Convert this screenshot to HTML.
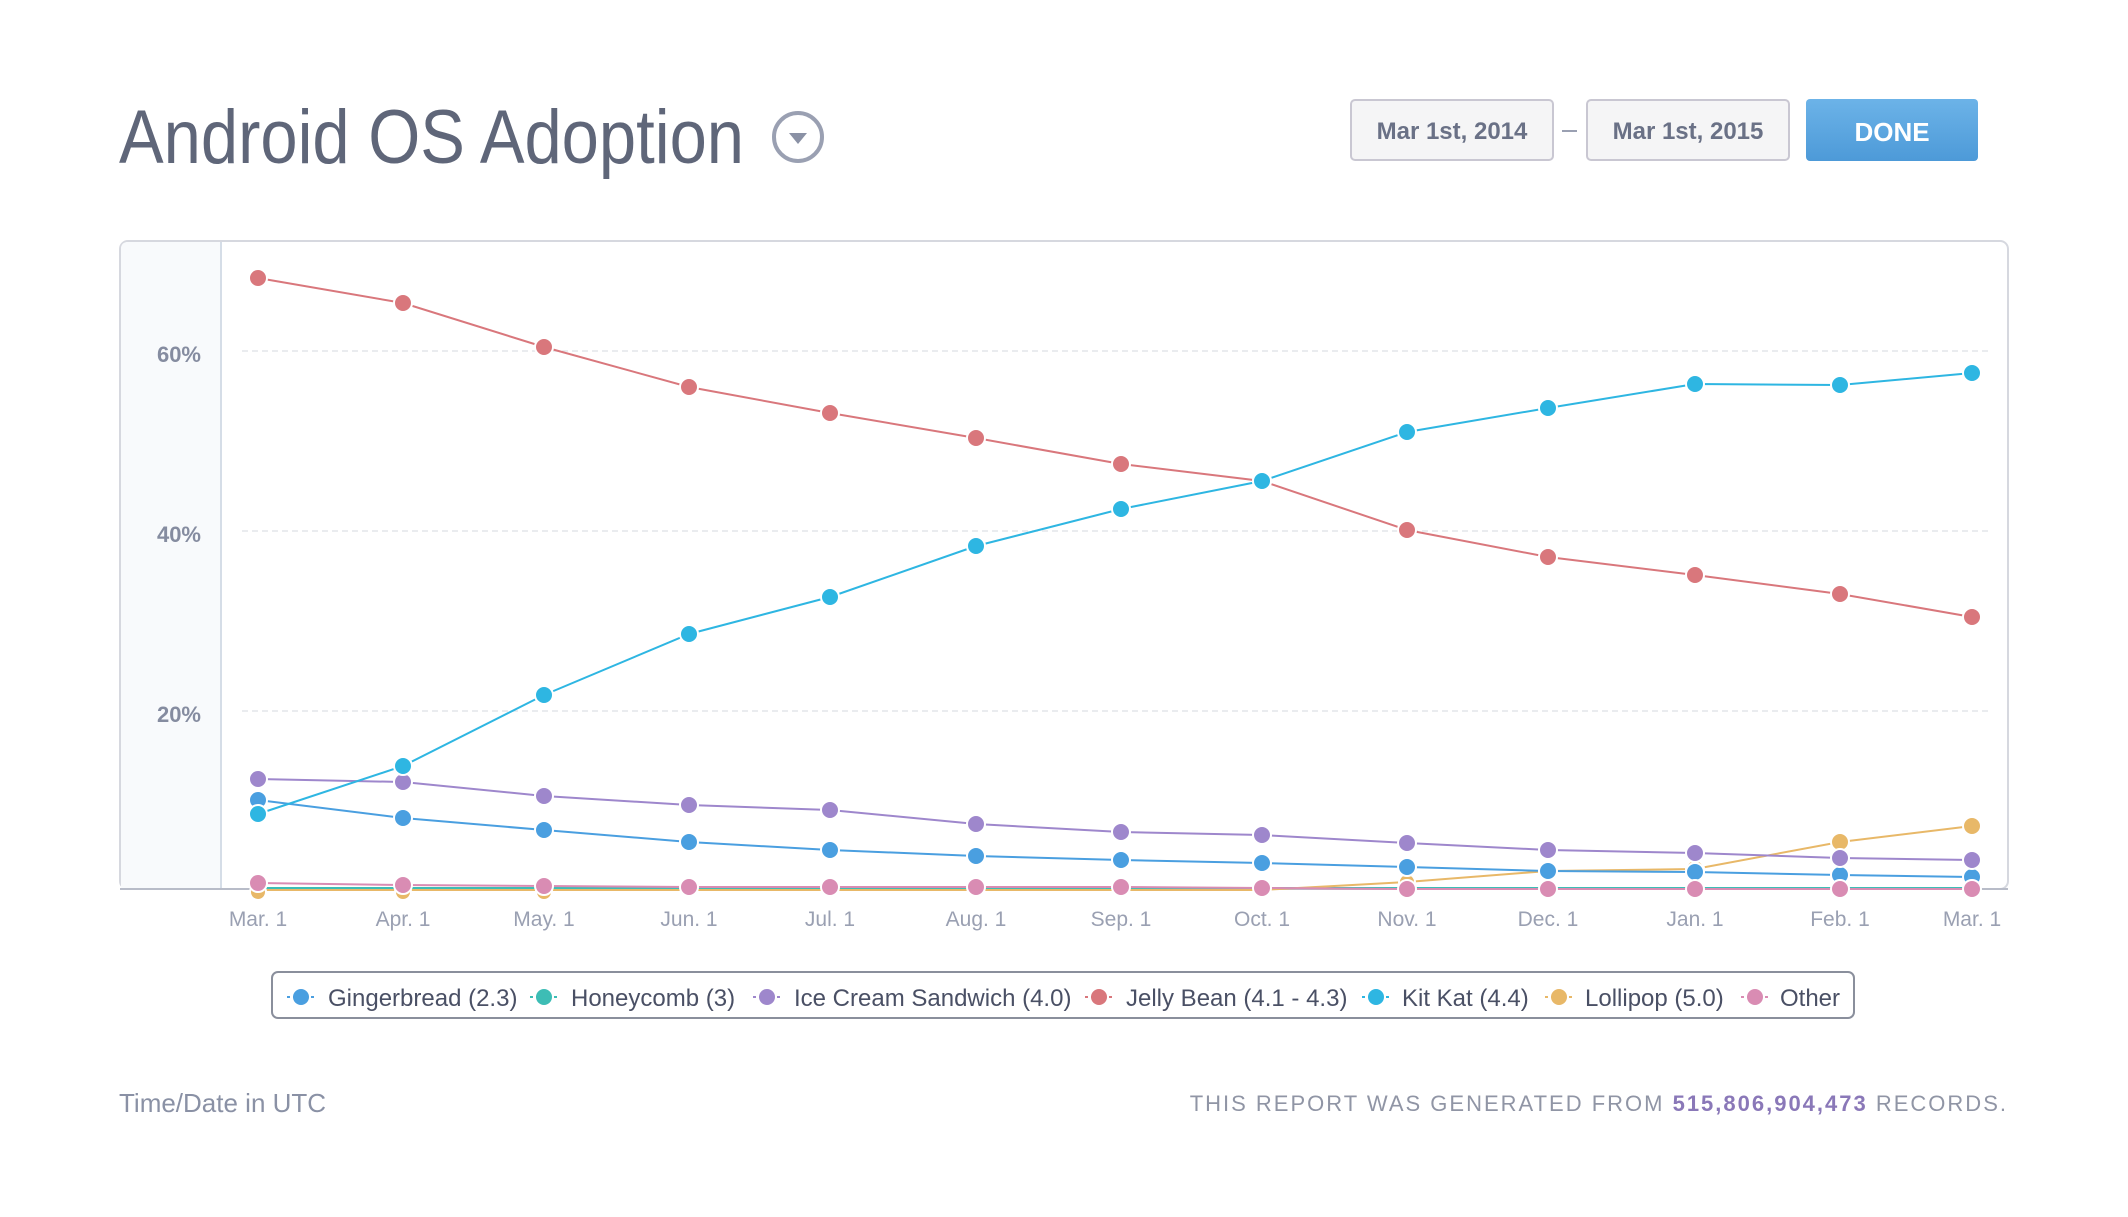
<!DOCTYPE html>
<html><head><meta charset="utf-8"><style>
html,body{margin:0;padding:0;background:#fff;}
body{width:2128px;height:1212px;overflow:hidden;font-family:"Liberation Sans",sans-serif;}
</style></head><body>
<svg width="2128" height="1212" viewBox="0 0 2128 1212" xmlns="http://www.w3.org/2000/svg" font-family="Liberation Sans, sans-serif">
<!-- title -->
<text x="119" y="163" font-size="76" fill="#5f6679" font-weight="300" textLength="625" lengthAdjust="spacingAndGlyphs">Android OS Adoption</text>
<circle cx="798" cy="137" r="24" fill="none" stroke="#9aa0b2" stroke-width="4"/>
<path d="M789 133 L807 133 L798 144 Z" fill="#8a91a5"/>
<!-- buttons -->
<rect x="1351" y="100" width="202" height="60" rx="4" fill="#f5f5f6" stroke="#c9c7d2" stroke-width="2"/>
<text x="1452" y="139" font-size="24" font-weight="bold" fill="#6a7186" text-anchor="middle">Mar 1st, 2014</text>
<line x1="1562" y1="131" x2="1577" y2="131" stroke="#9aa0b2" stroke-width="2"/>
<rect x="1587" y="100" width="202" height="60" rx="4" fill="#f5f5f6" stroke="#c9c7d2" stroke-width="2"/>
<text x="1688" y="139" font-size="24" font-weight="bold" fill="#6a7186" text-anchor="middle">Mar 1st, 2015</text>
<defs><linearGradient id="g" x1="0" y1="0" x2="0" y2="1"><stop offset="0" stop-color="#6cb3e8"/><stop offset="1" stop-color="#4d9ad8"/></linearGradient></defs>
<rect x="1806" y="99" width="172" height="62" rx="4" fill="url(#g)"/>
<text x="1892" y="141" font-size="26" font-weight="bold" fill="#fff" text-anchor="middle">DONE</text>
<!-- chart box -->
<rect x="120" y="241" width="1888" height="648" rx="8" fill="#fff" stroke="#d6d8df" stroke-width="2"/>
<path d="M121 249 Q121 242 128 242 L221 242 L221 888 L121 888 Z" fill="#f8fafc"/>
<line x1="221" y1="242" x2="221" y2="889" stroke="#d5dde7" stroke-width="2"/>
<line x1="120" y1="889" x2="2008" y2="889" stroke="#b8bcc8" stroke-width="2"/>
<g stroke="#e3e5ea" stroke-width="1.5" stroke-dasharray="6,4">
<line x1="242" y1="351" x2="1990" y2="351"/>
<line x1="242" y1="531" x2="1990" y2="531"/>
<line x1="242" y1="711" x2="1990" y2="711"/>
</g>
<g font-size="22" font-weight="bold" fill="#858ca0" text-anchor="end">
<text x="201" y="362">60%</text><text x="201" y="542">40%</text><text x="201" y="722">20%</text>
</g>
<g font-size="21" fill="#9aa0b2" text-anchor="middle">
<text x="258" y="926">Mar. 1</text><text x="403" y="926">Apr. 1</text><text x="544" y="926">May. 1</text><text x="689" y="926">Jun. 1</text><text x="830" y="926">Jul. 1</text><text x="976" y="926">Aug. 1</text><text x="1121" y="926">Sep. 1</text><text x="1262" y="926">Oct. 1</text><text x="1407" y="926">Nov. 1</text><text x="1548" y="926">Dec. 1</text><text x="1695" y="926">Jan. 1</text><text x="1840" y="926">Feb. 1</text><text x="1972" y="926">Mar. 1</text>
</g>
<g fill="none" stroke-width="2">
<polyline stroke="#3dbdb5" points="258,888 403,888 544,888 689,888 830,888 976,888 1121,888 1262,888 1407,888 1548,888 1695,888 1840,888 1972,888"/>
<polyline stroke="#e8b868" points="258,890 403,890 544,890 689,890 830,890 976,890 1121,890 1262,890 1407,882 1548,871 1695,869 1840,842 1972,826"/>
<polyline stroke="#4a9fe0" points="258,800 403,818 544,830 689,842 830,850 976,856 1121,860 1262,863 1407,867 1548,871 1695,872 1840,875 1972,877"/>
<polyline stroke="#9e87cc" points="258,779 403,782 544,796 689,805 830,810 976,824 1121,832 1262,835 1407,843 1548,850 1695,853 1840,858 1972,860"/>
<polyline stroke="#d9777c" points="258,278 403,303 544,347 689,387 830,413 976,438 1121,464 1262,481 1407,530 1548,557 1695,575 1840,594 1972,617"/>
<polyline stroke="#2eb6e2" points="258,814 403,766 544,695 689,634 830,597 976,546 1121,509 1262,481 1407,432 1548,408 1695,384 1840,385 1972,373"/>
<polyline stroke="#d98cb3" points="258,883 403,885 544,886 689,887 830,887 976,887 1121,887 1262,888 1407,889 1548,889 1695,889 1840,889 1972,889"/>
</g>
<g stroke="#fff" stroke-width="2">
<g fill="#3dbdb5"><circle cx="258" cy="888" r="7"/><circle cx="403" cy="888" r="7"/><circle cx="544" cy="888" r="7"/><circle cx="689" cy="888" r="7"/><circle cx="830" cy="888" r="7"/><circle cx="976" cy="888" r="7"/><circle cx="1121" cy="888" r="7"/><circle cx="1262" cy="888" r="7"/><circle cx="1407" cy="888" r="7"/><circle cx="1548" cy="888" r="7"/><circle cx="1695" cy="888" r="7"/><circle cx="1840" cy="888" r="7"/><circle cx="1972" cy="888" r="7"/></g>
<g fill="#e8b868"><circle cx="258" cy="892" r="8"/><circle cx="403" cy="892" r="8"/><circle cx="544" cy="892" r="8"/><circle cx="1407" cy="882" r="8"/><circle cx="1548" cy="871" r="9"/><circle cx="1695" cy="869" r="9"/><circle cx="1840" cy="842" r="9"/><circle cx="1972" cy="826" r="9"/></g>
<g fill="#4a9fe0"><circle cx="258" cy="800" r="9"/><circle cx="403" cy="818" r="9"/><circle cx="544" cy="830" r="9"/><circle cx="689" cy="842" r="9"/><circle cx="830" cy="850" r="9"/><circle cx="976" cy="856" r="9"/><circle cx="1121" cy="860" r="9"/><circle cx="1262" cy="863" r="9"/><circle cx="1407" cy="867" r="9"/><circle cx="1548" cy="871" r="9"/><circle cx="1695" cy="872" r="9"/><circle cx="1840" cy="875" r="9"/><circle cx="1972" cy="877" r="9"/></g>
<g fill="#9e87cc"><circle cx="258" cy="779" r="9"/><circle cx="403" cy="782" r="9"/><circle cx="544" cy="796" r="9"/><circle cx="689" cy="805" r="9"/><circle cx="830" cy="810" r="9"/><circle cx="976" cy="824" r="9"/><circle cx="1121" cy="832" r="9"/><circle cx="1262" cy="835" r="9"/><circle cx="1407" cy="843" r="9"/><circle cx="1548" cy="850" r="9"/><circle cx="1695" cy="853" r="9"/><circle cx="1840" cy="858" r="9"/><circle cx="1972" cy="860" r="9"/></g>
<g fill="#d9777c"><circle cx="258" cy="278" r="9"/><circle cx="403" cy="303" r="9"/><circle cx="544" cy="347" r="9"/><circle cx="689" cy="387" r="9"/><circle cx="830" cy="413" r="9"/><circle cx="976" cy="438" r="9"/><circle cx="1121" cy="464" r="9"/><circle cx="1262" cy="481" r="9"/><circle cx="1407" cy="530" r="9"/><circle cx="1548" cy="557" r="9"/><circle cx="1695" cy="575" r="9"/><circle cx="1840" cy="594" r="9"/><circle cx="1972" cy="617" r="9"/></g>
<g fill="#2eb6e2"><circle cx="258" cy="814" r="9"/><circle cx="403" cy="766" r="9"/><circle cx="544" cy="695" r="9"/><circle cx="689" cy="634" r="9"/><circle cx="830" cy="597" r="9"/><circle cx="976" cy="546" r="9"/><circle cx="1121" cy="509" r="9"/><circle cx="1262" cy="481" r="9"/><circle cx="1407" cy="432" r="9"/><circle cx="1548" cy="408" r="9"/><circle cx="1695" cy="384" r="9"/><circle cx="1840" cy="385" r="9"/><circle cx="1972" cy="373" r="9"/></g>
<g fill="#d98cb3"><circle cx="258" cy="883" r="9"/><circle cx="403" cy="885" r="9"/><circle cx="544" cy="886" r="9"/><circle cx="689" cy="887" r="9"/><circle cx="830" cy="887" r="9"/><circle cx="976" cy="887" r="9"/><circle cx="1121" cy="887" r="9"/><circle cx="1262" cy="888" r="9"/><circle cx="1407" cy="889" r="9"/><circle cx="1548" cy="889" r="9"/><circle cx="1695" cy="889" r="9"/><circle cx="1840" cy="889" r="9"/><circle cx="1972" cy="889" r="9"/></g>
</g>
<!-- legend -->
<rect x="272" y="972" width="1582" height="46" rx="6" fill="#fff" stroke="#8a8f9c" stroke-width="2"/>
<g font-size="24" fill="#4a5065">
<g stroke-width="2" stroke-dasharray="3,3">
<line x1="287" y1="997" x2="315" y2="997" stroke="#4a9fe0"/><line x1="530" y1="997" x2="558" y2="997" stroke="#3dbdb5"/><line x1="753" y1="997" x2="781" y2="997" stroke="#9e87cc"/><line x1="1085" y1="997" x2="1113" y2="997" stroke="#d9777c"/><line x1="1362" y1="997" x2="1390" y2="997" stroke="#2eb6e2"/><line x1="1545" y1="997" x2="1573" y2="997" stroke="#e8b868"/><line x1="1741" y1="997" x2="1769" y2="997" stroke="#d98cb3"/>
</g>
<circle cx="301" cy="997" r="8" fill="#4a9fe0"/><circle cx="544" cy="997" r="8" fill="#3dbdb5"/><circle cx="767" cy="997" r="8" fill="#9e87cc"/><circle cx="1099" cy="997" r="8" fill="#d9777c"/><circle cx="1376" cy="997" r="8" fill="#2eb6e2"/><circle cx="1559" cy="997" r="8" fill="#e8b868"/><circle cx="1755" cy="997" r="8" fill="#d98cb3"/>
<text x="328" y="1006">Gingerbread (2.3)</text><text x="571" y="1006">Honeycomb (3)</text><text x="794" y="1006">Ice Cream Sandwich (4.0)</text><text x="1126" y="1006">Jelly Bean (4.1 - 4.3)</text><text x="1402" y="1006">Kit Kat (4.4)</text><text x="1585" y="1006">Lollipop (5.0)</text><text x="1780" y="1006">Other</text>
</g>
<!-- footer -->
<text x="119" y="1112" font-size="26" fill="#8a91a5">Time/Date in UTC</text>
<text x="2008" y="1111" font-size="22" fill="#9095a5" text-anchor="end" letter-spacing="2">THIS REPORT WAS GENERATED FROM <tspan fill="#8a78b8" font-weight="bold">515,806,904,473</tspan> RECORDS.</text>
</svg>
</body></html>
